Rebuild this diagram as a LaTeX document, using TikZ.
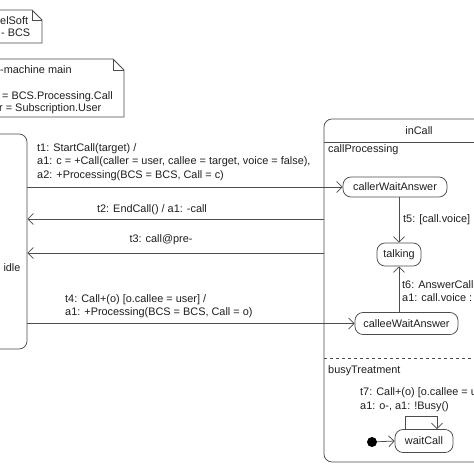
\documentclass[tikz,border=0pt]{standalone}
\usepackage{fontspec}
\setmainfont{Liberation Sans}
\usetikzlibrary{arrows.meta}
\begin{document}
\begin{tikzpicture}[x=1pt,y=-1pt,
  line/.style={draw=black!70,line width=0.75pt},
  arr/.style={line,-{Straight Barb[length=5.5pt,width=11pt]}},
  fnt/.style={font=\fontsize{10.9}{14}\selectfont},
  txt/.style={fnt,inner sep=0pt,anchor=west,text=black!88},
  ctxt/.style={fnt,inner sep=0pt,text=black!88},
  st/.style={fnt,line,rounded corners=8pt,inner sep=0pt,text=black!88},
  note/.style={line,fill=white}]
\useasboundingbox (0,0) rectangle (474,474);
\fill[white] (0,0) rectangle (474,474);
% notes
\draw[note] (-5,10) -- (32,10) -- (42,20) -- (42,43) -- (-5,43) -- cycle;
\draw[line] (32,10) -- (32,20) -- (42,20);
\node[txt] (n1a) at (0,21) {elSoft};
\node[txt] (n1b) at (1,33) {- BCS};
\draw[note] (-5,59) -- (113,59) -- (124,70) -- (124,117) -- (-5,117) -- cycle;
\draw[line] (113,59) -- (113,70) -- (124,70);
\node[txt] (n2a) at (0,70) {-machine main};
\node[txt] (n2b) at (2,97) {= BCS.Processing.Call};
\node[txt] (n2c) at (-1,109) {r = Subscription.User};
% idle
\node[st,minimum width=45pt,minimum height=215pt] (idle) at (4.5,241.5) {};
\node[ctxt] (idlelbl) at (12,268) {idle};
% inCall
\node[st,minimum width=176pt,minimum height=343pt] (incall) at (412,290.5) {};
\draw[line] (324,142) -- (500,142);
\draw[line,dashed] (324,358) -- (500,358);
\node[ctxt] (incalllbl) at (419,131) {inCall};
\node[txt] (cp) at (328,150) {callProcessing};
\node[txt] (bt) at (328,371) {busyTreatment};
% inner states
\node[st,minimum width=104pt,minimum height=20pt] (cwa) at (395,187) {callerWaitAnswer};
\node[st,minimum width=44pt,minimum height=23pt] (talk) at (399,254.5) {talking};
\node[st,minimum width=103pt,minimum height=22pt] (cea) at (406.5,323.5) {calleeWaitAnswer};
\node[st,minimum width=58pt,minimum height=23pt] (wc) at (424,441) {waitCall};
\node[circle,fill=black,inner sep=0pt,minimum size=10pt] (init) at (372,442) {};
% transitions
\draw[arr] (cwa.west -| idle.east) -- (cwa.west);
\node[txt] (t1a) at (37,149) {t1: StartCall(target) /};
\node[txt] (t1b) at (37,162) {a1: c = +Call(caller = user, callee = target, voice = false),};
\node[txt] (t1c) at (37,176) {a2: +Processing(BCS = BCS, Call = c)};
\coordinate (t2s) at (324,219);
\draw[arr] (t2s) -- (t2s -| idle.east);
\node[ctxt] (t2l) at (152,210) {t2: EndCall() / a1: -call};
\coordinate (t3s) at (324,253);
\draw[arr] (t3s) -- (t3s -| idle.east);
\node[ctxt] (t3l) at (161,240) {t3: call@pre-};
\draw[arr] (cea.west -| idle.east) -- (cea.west);
\node[txt] (t4a) at (65,300) {t4: Call+(o) [o.callee = user] /};
\node[txt] (t4b) at (65,313) {a1: +Processing(BCS = BCS, Call = o)};
\draw[arr] (cwa.south -| talk) -- (talk.north);
\node[txt] (t5l) at (403,220) {t5: [call.voice]};
\draw[arr] (cea.north -| talk) -- (talk.south);
\node[txt] (t6a) at (402,285) {t6: AnswerCall};
\node[txt] (t6b) at (402,298) {a1: call.voice :};
\node[txt] (t7a) at (360,393) {t7: Call+(o) [o.callee = u};
\node[txt] (t7b) at (360,407) {a1: o-, a1: !Busy()};
\draw[arr] (init) -- (wc.west);
\coordinate (lp1) at (405,416);
\coordinate (lp2) at (437,416);
\draw[arr] (wc.north -| lp1) -- (lp1) -- (lp2) -- (wc.north -| lp2);
\end{tikzpicture}
\end{document}
